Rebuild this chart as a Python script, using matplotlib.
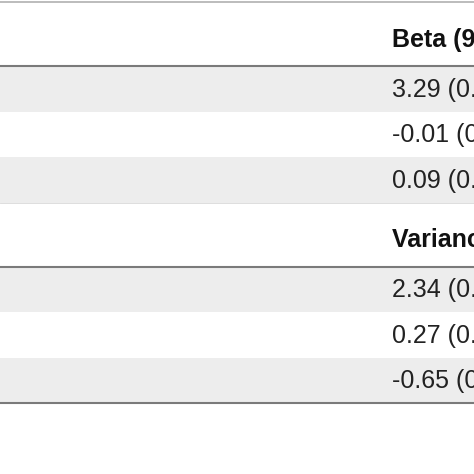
import matplotlib
matplotlib.use("Agg")
import matplotlib.pyplot as plt
from matplotlib.patches import Rectangle

section_headers = ["Beta (95% CI)", "Variance (95% CI)"]
section1_values = ["3.29 (0.00, 0.00)", "-0.01 (0.00, 0.00)", "0.09 (0.00, 0.00)"]
section2_values = ["2.34 (0.00, 0.00)", "0.27 (0.00, 0.00)", "-0.65 (0.00, 0.00)"]

fig = plt.figure(figsize=(4.74, 4.74), dpi=100)
ax = fig.add_axes([0, 0, 1, 1])
ax.set_xlim(0, 474)
ax.set_ylim(474, 0)
ax.axis("off")

row_h = 45.5
gray = "#ededed"
line_c = "#7a7a7a"
text_x = 392
fs = 18

ax.plot([0, 474], [1.5, 1.5], color="#b0b0b0", lw=1.2)

y = 4
for hdr, vals in [(section_headers[0], section1_values), (section_headers[1], section2_values)]:
    hh = 62 if y < 10 else 64
    ax.text(text_x, y + hh * 0.58, hdr, fontsize=fs, fontweight="bold",
            va="center", ha="left", color="#111111", family="Liberation Sans", clip_on=True)
    y += hh
    ax.plot([0, 474], [y, y], color=line_c, lw=1.5)
    for i, v in enumerate(vals):
        if i % 2 == 0:
            ax.add_patch(Rectangle((0, y), 474, row_h, facecolor=gray, edgecolor="none"))
        ax.text(text_x, y + row_h / 2 + 1, v, fontsize=fs, va="center", ha="left",
                color="#222222", family="Liberation Sans", clip_on=True)
        y += row_h
    ax.plot([0, 474], [y, y], color=line_c if y > 300 else "#d8d8d8", lw=1.5 if y > 300 else 0.6)

fig.savefig("out.png", dpi=100)
